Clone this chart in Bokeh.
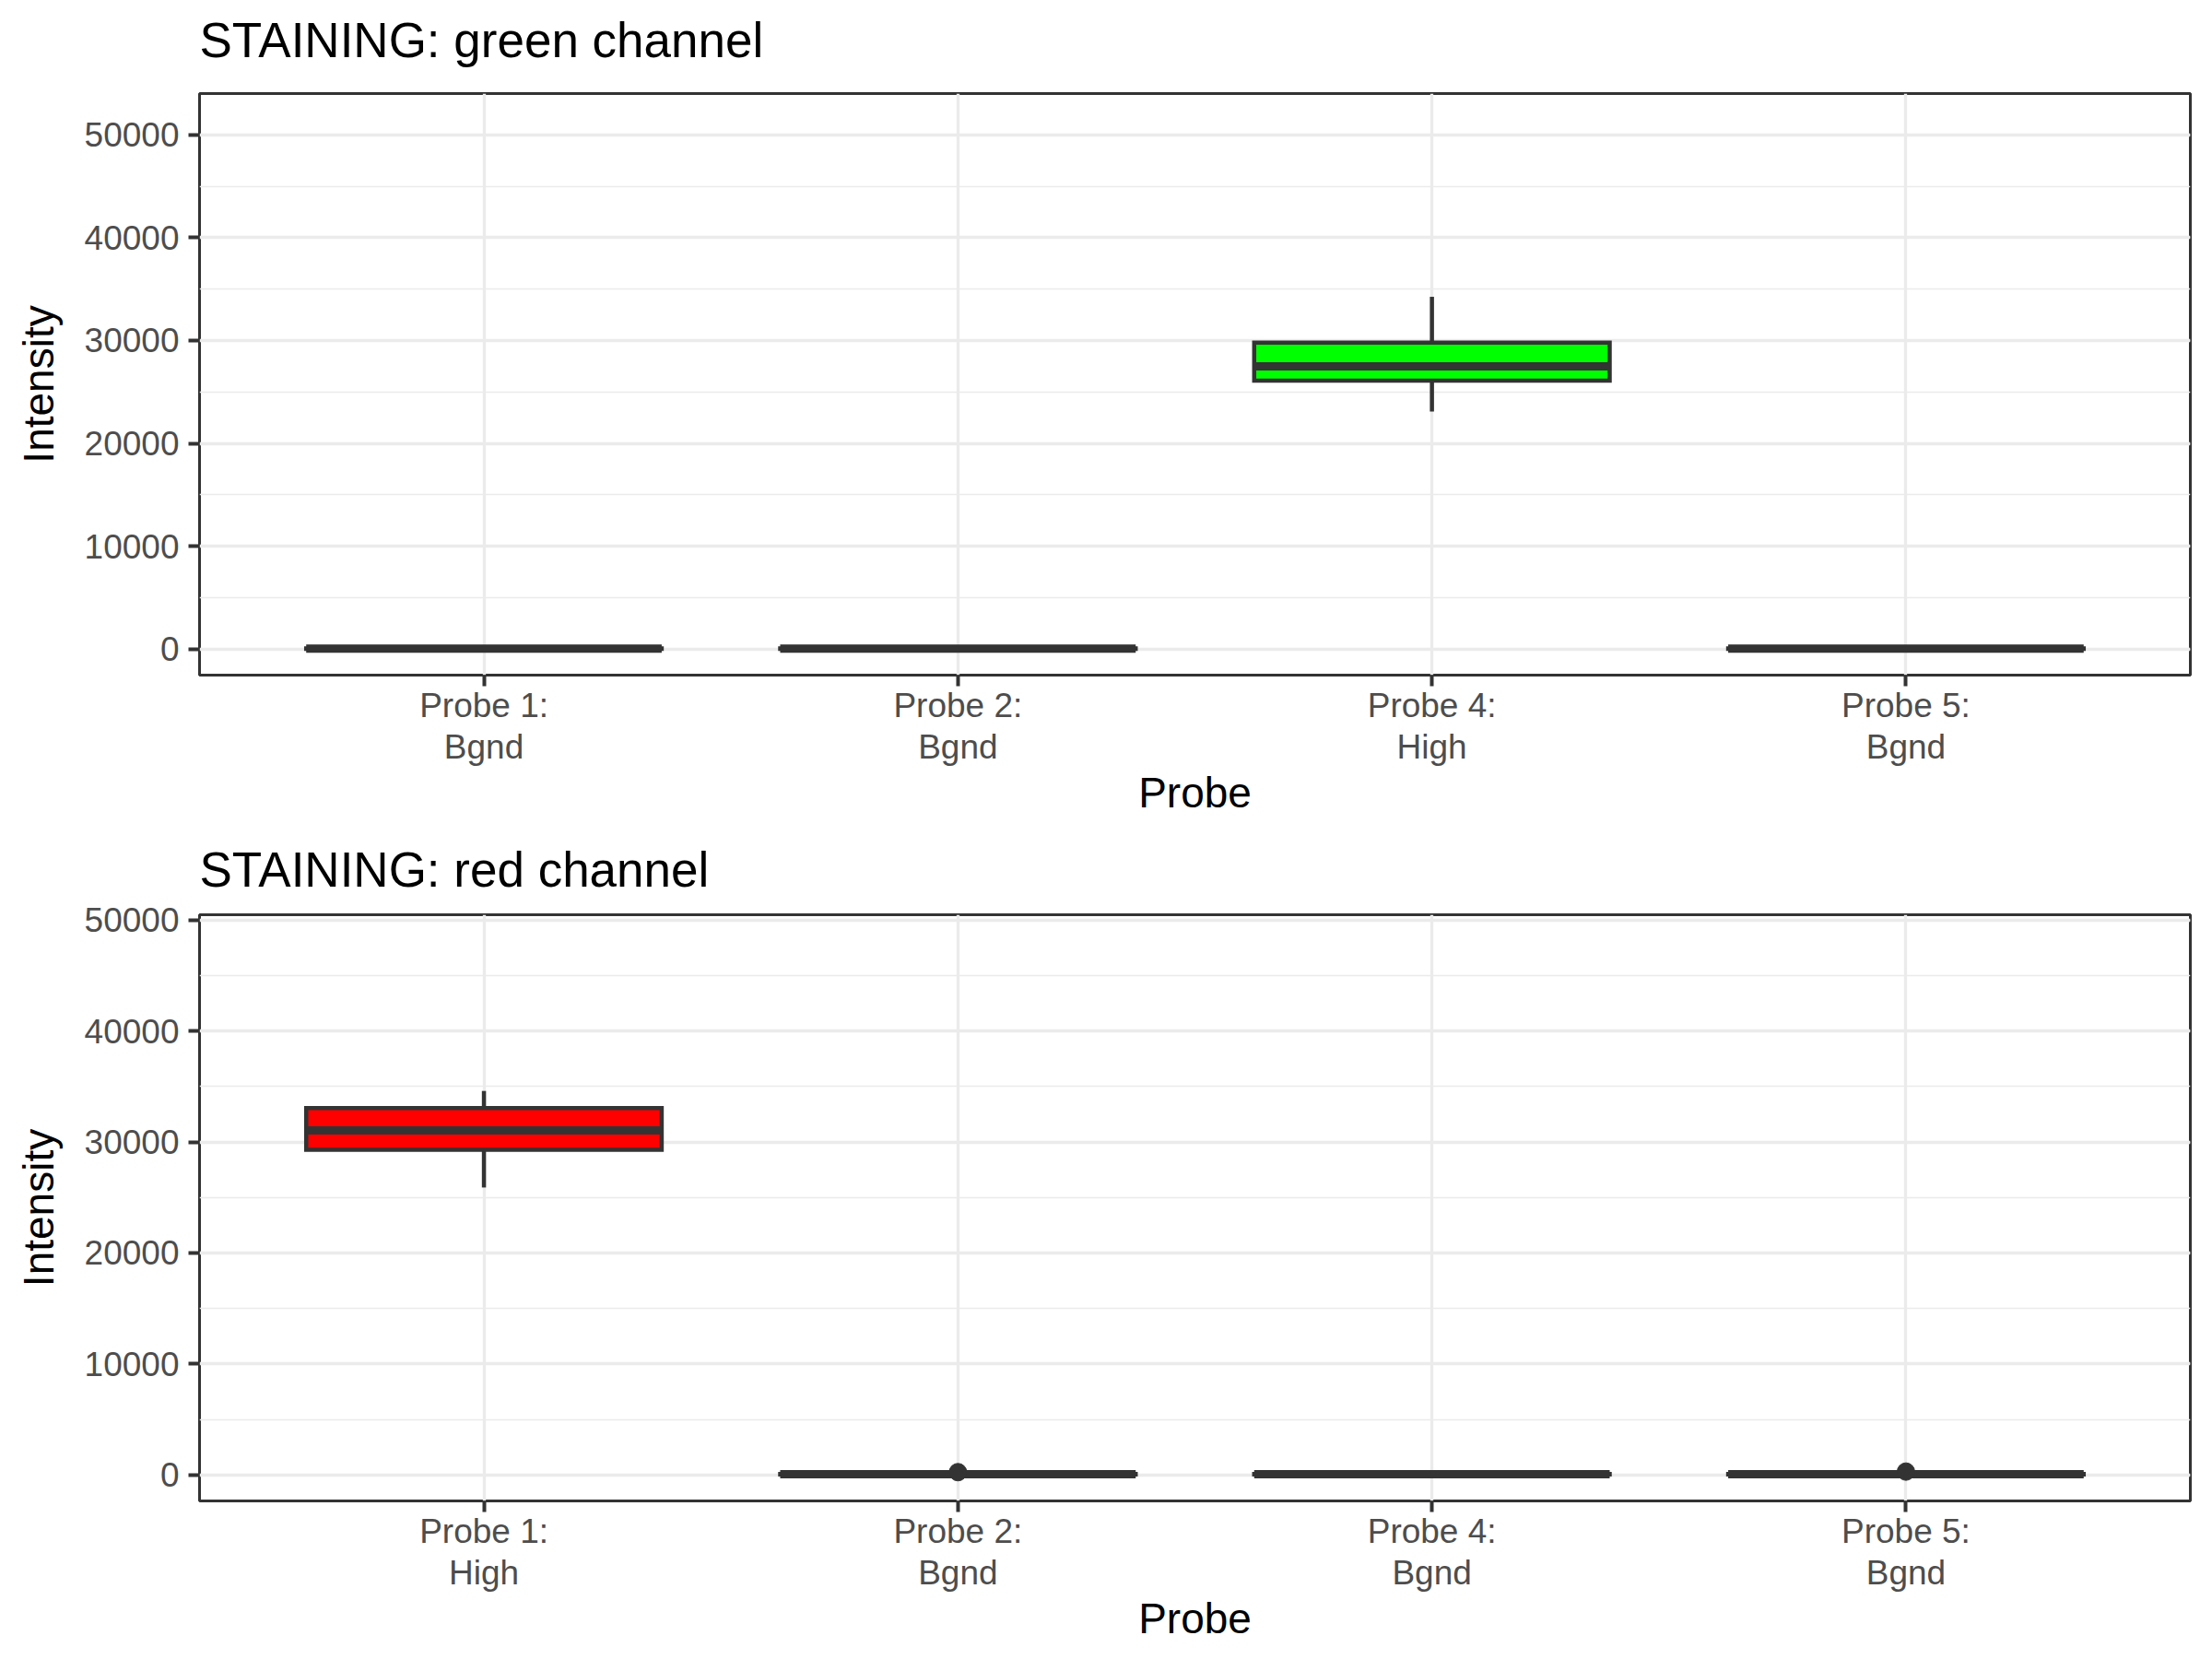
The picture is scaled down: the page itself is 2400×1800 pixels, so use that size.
from bokeh.plotting import figure
from bokeh.models import (FactorRange, Range1d, SingleIntervalTicker, ColumnDataSource,
                          PrintfTickFormatter)
from bokeh.core.properties import value
from bokeh.layouts import column
from bokeh.embed import file_html
from bokeh.resources import INLINE

# ---- data ----
green_labels = ["Probe 1:\nBgnd", "Probe 2:\nBgnd", "Probe 4:\nHigh", "Probe 5:\nBgnd"]
green_low = [10, 10, 23100, 10]
green_q1 = [30, 30, 26100, 30]
green_med = [60, 60, 27500, 60]
green_q3 = [90, 90, 29800, 90]
green_high = [150, 150, 34250, 150]
green_fill = ["#FFFFFF", "#FFFFFF", "#00FF00", "#FFFFFF"]
green_out_x = []
green_out_y = []

red_labels = ["Probe 1:\nHigh", "Probe 2:\nBgnd", "Probe 4:\nBgnd", "Probe 5:\nBgnd"]
red_low = [25900, 10, 10, 10]
red_q1 = [29300, 40, 40, 40]
red_med = [31050, 60, 60, 60]
red_q3 = [33050, 90, 90, 90]
red_high = [34600, 150, 150, 150]
red_fill = ["#FF0000", "#FFFFFF", "#FFFFFF", "#FFFFFF"]
red_out_x = ["Probe 2:\nBgnd", "Probe 5:\nBgnd"]
red_out_y = [250, 300]

titles = ["STAINING: green channel", "STAINING: red channel"]

FONT = "Liberation Sans"
DARK = "#333333"
GRID = "#EBEBEB"
W = 2384
LEFT, RIGHT = 216, 8
FRAME_W = W - LEFT - RIGHT


def title_strip(text, h, center_from_top):
    # frame of this strip is aligned with the panels below (216 .. 2376)
    t = figure(width=W, height=h, title=None,
               x_range=Range1d(0, FRAME_W), y_range=Range1d(0, h),
               min_border=0, min_border_left=LEFT, min_border_right=RIGHT,
               min_border_top=0, min_border_bottom=0,
               x_axis_location=None, y_axis_location=None,
               output_backend="svg", toolbar_location=None)
    t.grid.visible = False
    t.outline_line_color = None
    t.background_fill_color = "white"
    t.border_fill_color = "white"
    t.text(x=[0], y=[h - center_from_top], text=[text],
           text_font=value(FONT), text_font_size=value("53px"),
           text_color="black", text_align="left", text_baseline="alphabetic")
    return t


def panel(labels, low, q1, med, q3, high, fill, out_x, out_y,
          y0, y1, b_top, frame_h, b_bottom):
    p = figure(x_range=FactorRange(factors=labels, range_padding=0.05,
                                   range_padding_units="percent"),
               y_range=Range1d(y0, y1), title=None,
               width=W, height=b_top + frame_h + b_bottom,
               min_border_left=LEFT, min_border_right=RIGHT,
               min_border_top=b_top, min_border_bottom=b_bottom,
               output_backend="svg", toolbar_location=None)

    p.background_fill_color = "white"
    p.border_fill_color = "white"
    p.outline_line_color = DARK
    p.outline_line_width = 3
    p.outline_line_alpha = 1.0

    # grids
    p.xgrid.grid_line_color = GRID
    p.xgrid.grid_line_width = 3.3
    p.ygrid.grid_line_color = GRID
    p.ygrid.grid_line_width = 3.3
    p.ygrid.minor_grid_line_color = GRID
    p.ygrid.minor_grid_line_width = 1.7

    # axes
    p.yaxis.ticker = SingleIntervalTicker(interval=10000, num_minor_ticks=2)
    p.yaxis.formatter = PrintfTickFormatter(format="%d")
    for ax in (p.xaxis[0], p.yaxis[0]):
        ax.axis_line_color = None
        ax.major_tick_in = 0
        ax.major_tick_out = 12
        ax.major_tick_line_color = DARK
        ax.major_tick_line_width = 4
        ax.minor_tick_line_color = None
        ax.major_label_text_font = FONT
        ax.major_label_text_font_size = "37px"
        ax.major_label_text_color = "#4D4D4D"
        ax.axis_label_text_font = FONT
        ax.axis_label_text_font_size = "46px"
        ax.axis_label_text_font_style = "normal"
        ax.axis_label_text_color = "black"
    p.xaxis.major_label_text_line_height = 1.1
    p.xaxis.major_label_standoff = 0
    p.xaxis.axis_label = "Probe"
    p.xaxis.axis_label_standoff = 0
    p.yaxis.major_label_standoff = 10
    p.yaxis.axis_label = "Intensity"
    p.yaxis.axis_label_standoff = 21

    src = ColumnDataSource(dict(x=labels, low=low, q1=q1, med=med, q3=q3,
                                high=high, fill=fill))
    p.segment(x0="x", y0="q3", x1="x", y1="high", source=src,
              line_color=DARK, line_width=4.5)
    p.segment(x0="x", y0="low", x1="x", y1="q1", source=src,
              line_color=DARK, line_width=4.5)
    p.vbar(x="x", width=0.75, bottom="q1", top="q3", source=src,
           fill_color="fill", line_color=DARK, line_width=4.5,
           line_join="miter")
    p.rect(x="x", y="med", width=0.75, height=9, height_units="screen",
           source=src, fill_color=DARK, line_color=None)
    if out_x:
        p.scatter(x=out_x, y=out_y, size=19, fill_color=DARK, line_color=DARK)
    return p


t1 = title_strip(titles[0], 80, 43)
p1 = panel(green_labels, green_low, green_q1, green_med, green_q3, green_high,
           green_fill, green_out_x, green_out_y, -2518, 54005, 21, 631, 168)
t2 = title_strip(titles[1], 75, 43)
p2 = panel(red_labels, red_low, red_q1, red_med, red_q3, red_high,
           red_fill, red_out_x, red_out_y, -2345, 50477, 17, 640, 152)

layout = column(t1, p1, t2, p2, spacing=0)
open("out.html", "w").write(file_html(layout, INLINE))
